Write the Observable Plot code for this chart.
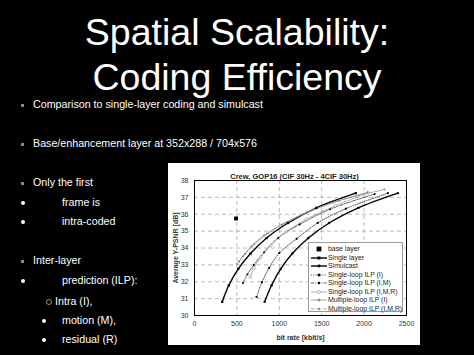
<!DOCTYPE html>
<html><head><meta charset="utf-8">
<script src="https://cdn.jsdelivr.net/npm/d3@7"></script>
<script src="https://cdn.jsdelivr.net/npm/@observablehq/plot@0.6"></script>
<style>
html,body{margin:0;padding:0;background:#000;}
body{width:474px;height:355px;overflow:hidden;position:relative;font-family:"Liberation Sans",Arial,sans-serif;}
#title{position:absolute;left:0;width:474px;top:9.7px;text-align:center;color:#fff;font-size:37.5px;line-height:45px;}
.b{position:absolute;color:#fff;font-size:10.7px;line-height:1;white-space:nowrap;}
.sq{position:absolute;width:3px;height:3px;background:#8a8a8a;}
.dot{position:absolute;width:4px;height:4px;border-radius:50%;background:#fff;}
.ring{position:absolute;width:4px;height:4px;border-radius:50%;border:1px solid #a8924a;}
#chart{position:absolute;left:168px;top:163px;width:252px;height:182px;background:#fff;}
#legend{position:absolute;left:140px;top:79px;width:95px;height:70px;background:#fff;border:1px solid #999;box-sizing:border-box;}
.lr{position:absolute;left:0;height:8px;width:95px;font-size:6.9px;color:#222;white-space:nowrap;}
.lr svg{position:absolute;left:2px;top:0;}
.lr span{position:absolute;left:19px;top:0;line-height:8px;}
g[aria-label="x-axis label"] text, g[aria-label="y-axis label"] text{font-weight:bold;}
</style></head><body>
<div id="title">Spatial Scalability:<br>Coding Efficiency</div>
<div id="bullets"></div>
<div id="chart"><div id="legend"></div></div>
<script>
// ---- data ----
const chartTitle = "Crew, GOP16 (CIF 30Hz - 4CIF 30Hz)";
const seriesNames = ["base layer","Single layer","Simulcast","Single-loop ILP (I)","Single-loop ILP (I,M)","Single-loop ILP (I,M,R)","Multiple-loop ILP (I)","Multiple-loop ILP (I,M,R)"];
const baseLayerRate = [490];
const baseLayerPsnr = [35.75];
const singleLayerRate = [327,405,516,661,850,1102,1437,1902];
const singleLayerPsnr = [30.81,31.79,32.76,33.67,34.59,35.48,36.38,37.25];
const simulcastRate = [827,909,1016,1154,1343,1587,1933,2398];
const simulcastPsnr = [30.81,31.79,32.76,33.67,34.59,35.48,36.38,37.25];
const slIRate = [732,795,880,1000,1205,1454,1784,2280];
const slIPsnr = [31.1,31.97,32.82,33.7,34.55,35.49,36.33,37.25];
const slIMRate = [571,625,700,820,985,1240,1600,2125];
const slIMPsnr = [31.93,32.45,33.0,33.75,34.6,35.4,36.3,37.2];
const slIMRRate = [658,700,780,900,1080,1320,1660,2046];
const slIMRPsnr = [32.27,32.8,33.45,34.15,34.95,35.7,36.5,37.27];
const mlIRate = [525,595,700,860,1080,1370,1700,2040];
const mlIPsnr = [33.2,33.65,34.2,34.85,35.5,36.2,36.8,37.3];
const mlIMRRate = [500,570,670,820,1030,1320,1700,2240];
const mlIMRPsnr = [33.05,33.5,34.1,34.75,35.4,36.1,36.8,37.47];
const xTicks = [0,500,1000,1500,2000,2500];
const yTicks = [30,31,32,33,34,35,36,37,38];
const xGrid = [500,1000,1500,2000];
const yGrid = [31,32,33,34,35,36,37];

const seriesData = [
  [baseLayerRate, baseLayerPsnr],
  [singleLayerRate, singleLayerPsnr],
  [simulcastRate, simulcastPsnr],
  [slIRate, slIPsnr],
  [slIMRate, slIMPsnr],
  [slIMRRate, slIMRPsnr],
  [mlIRate, mlIPsnr],
  [mlIMRRate, mlIMRPsnr]
];
// ---- styles ----
const styles = [
  {line:false, stroke:"#000", w:0, dash:null, sym:"square", r:2.2, fill:"#000"},
  {line:true, stroke:"#000", w:1.4, dash:null, sym:"square", r:1.3, fill:"#000"},
  {line:true, stroke:"#000", w:1.4, dash:null, sym:"circle", r:1.2, fill:"#000"},
  {line:true, stroke:"#222", w:0.8, dash:"1,1.3", sym:"square", r:1.1, fill:"#000"},
  {line:true, stroke:"#333", w:0.8, dash:"3,1.2,1,1.2", sym:"circle", r:1.0, fill:"#000"},
  {line:true, stroke:"#a0a0a0", w:0.8, dash:null, sym:"circle", r:1.3, fill:"#fff", ms:"#888"},
  {line:true, stroke:"#9a9a9a", w:0.9, dash:null, sym:"square", r:1.0, fill:"#888"},
  {line:true, stroke:"#888", w:0.8, dash:"3,1.2,1,1.2", sym:"circle", r:1.0, fill:"#888"}
];

const rows = seriesData.map(([xs, ys], i) => xs.map((x, j) => ({series: seriesNames[i], rate: x, psnr: ys[j]})));

const marks = [
  Plot.ruleY(yGrid, {stroke:"#a8a8a8", strokeWidth:0.8, strokeDasharray:"4,3"}),
  Plot.ruleX(xGrid, {stroke:"#a8a8a8", strokeWidth:0.8, strokeDasharray:"4,3"})
];
rows.forEach((r, i) => {
  const s = styles[i];
  if (s.line) marks.push(Plot.line(r, {x:"rate", y:"psnr", stroke:s.stroke, strokeWidth:s.w, strokeDasharray:s.dash, curve:"catmull-rom"}));
});
rows.forEach((r, i) => {
  const s = styles[i];
  marks.push(Plot.dot(r, {x:"rate", y:"psnr", symbol:s.sym, r:s.r, fill:s.fill, stroke:s.ms || "none", strokeWidth:0.6}));
});
marks.push(Plot.frame({stroke:"#000", strokeWidth:1}));
marks.push(Plot.text([chartTitle], {frameAnchor:"top", dy:-7, dx:-6, text:d=>d, fontWeight:"bold", fontSize:7.5, fill:"#222"}));

const chart = Plot.plot({
  width:252, height:182,
  marginLeft:26, marginRight:14, marginTop:17, marginBottom:30,
  style:{background:"#fff", fontFamily:"Liberation Sans, Arial, sans-serif", fontSize:"7px", color:"#333"},
  x:{domain:[0,2500], ticks:xTicks, tickFormat:d=>String(d), tickSize:0, tickPadding:6, label:"bit rate [kbit/s]", labelAnchor:"center", labelArrow:"none", labelOffset:24},
  y:{domain:[30,38], ticks:yTicks, tickFormat:d=>String(d), tickSize:0, tickPadding:6, label:"Average Y-PSNR [dB]", labelAnchor:"center", labelArrow:"none", labelOffset:21},
  marks
});
document.getElementById("chart").prepend(chart);

// legend
const legend = document.getElementById("legend");
seriesNames.forEach((name, i) => {
  const s = styles[i];
  const row = document.createElement("div");
  row.className = "lr";
  row.style.top = (2 + i*8.57) + "px";
  let svg = `<svg width="17" height="8">`;
  if (s.line) svg += `<line x1="0" x2="16" y1="4" y2="4" stroke="${s.stroke}" stroke-width="${s.w}" ${s.dash?`stroke-dasharray="${s.dash}"`:""}/>`;
  const rr = s.r + 0.2;
  if (s.sym === "square") svg += `<rect x="${8-rr}" y="${4-rr}" width="${2*rr}" height="${2*rr}" fill="${s.fill}" stroke="${s.ms||'none'}" stroke-width="0.6"/>`;
  else svg += `<circle cx="8" cy="4" r="${rr}" fill="${s.fill}" stroke="${s.ms||'none'}" stroke-width="0.6"/>`;
  svg += `</svg>`;
  row.innerHTML = svg + `<span>${name}</span>`;
  legend.appendChild(row);
});

// slide bullets
const bulletTexts = ["Comparison to single-layer coding and simulcast","Base/enhancement layer at 352x288 / 704x576","Only the first","frame is","intra-coded","Inter-layer","prediction (ILP):","Intra (I),","motion (M),","residual (R)"];
const bulletLayout = [
  {y:105, x:33, mark:"sq", mx:21},
  {y:144, x:33, mark:"sq", mx:21},
  {y:183, x:33, mark:"sq", mx:21},
  {y:203, x:62, mark:"dot", mx:21},
  {y:222, x:62, mark:"dot", mx:21},
  {y:261, x:33, mark:"sq", mx:21},
  {y:281, x:62, mark:"dot", mx:21},
  {y:302, x:55, mark:"ring", mx:46},
  {y:321, x:62, mark:"dot", mx:42},
  {y:340, x:62, mark:"dot", mx:42}
];
const bl = document.getElementById("bullets");
bulletTexts.forEach((t, i) => {
  const L = bulletLayout[i];
  const d = document.createElement("div");
  d.className = "b";
  d.style.left = L.x + "px";
  d.style.top = (L.y + 3.5 - 9.06) + "px";
  d.textContent = t;
  bl.appendChild(d);
  const m = document.createElement("div");
  m.className = L.mark;
  const sz = L.mark === "sq" ? 3 : (L.mark === "ring" ? 6 : 4);
  m.style.left = L.mx + "px";
  m.style.top = (L.y - sz/2) + "px";
  bl.appendChild(m);
});
</script>
</body></html>
